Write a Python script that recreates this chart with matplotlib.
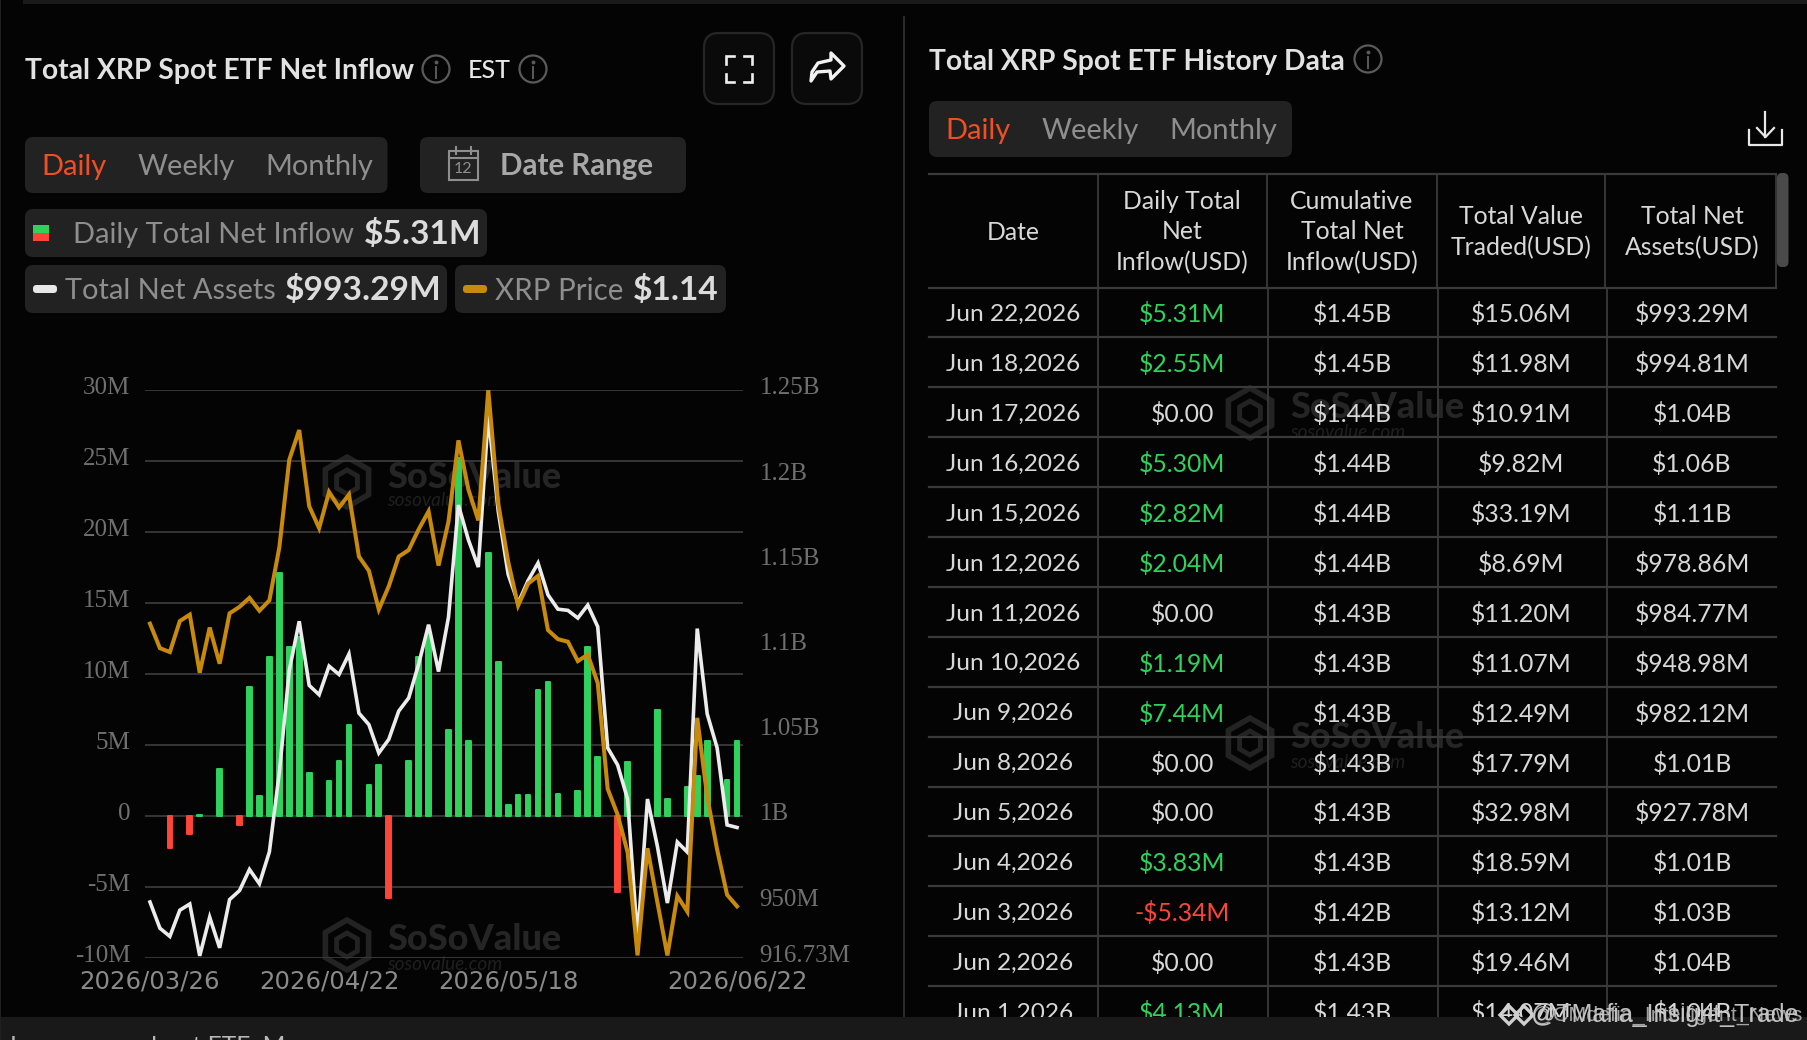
import matplotlib
matplotlib.use("Agg")
import matplotlib.pyplot as plt
from matplotlib.patches import FancyBboxPatch, Circle, Rectangle, RegularPolygon, Polygon
from matplotlib.transforms import ScaledTranslation

W, H = 1807, 1040
BG = "#040404"
GREY = "#8e8e8e"
ORANGE = "#f04f23"
GREEN = "#2fd35c"
RED = "#ff4438"
GOLD = "#c88a0c"
LINE = "#3a3a3a"

# chart data, one entry per trading day
x_labels = ["2026/03/26", "2026/04/22", "2026/05/18", "2026/06/22"]
x_label_idx = [0, 18, 36, 59]
net_inflow = [0, 0, -2.27, 0, -1.26, 0.1, 0, 3.33, 0, -0.6, 9.08, 1.44, 11.18, 17.1, 11.87,
              12.6, 3.0, 0, 2.47, 3.9, 6.44, 0, 2.18, 3.62, -5.75, 0, 3.9, 11.2, 12.8, 0,
              6.06, 25.2, 5.3, 0, 18.5, 10.86, 0.75, 1.47, 1.47, 8.88, 9.45, 1.55, 0, 1.78, 11.9,
              4.13, 0, -5.34, 3.83, 0, 0, 7.44, 1.19, 0, 2.04, 2.82, 5.30, 0, 2.55, 5.31]
net_assets = [949.6, 934.2, 929.4, 944.8, 948.4, 918, 940.7, 922.7, 951, 956.3, 968.7, 960.3,
              979, 1025.7, 1085.5, 1114.3, 1076.7, 1071.2, 1088, 1083.1, 1095.1, 1060.4, 1053.7,
              1037, 1045, 1061.6, 1069.3, 1089.1, 1112.3, 1084.8, 1116.7, 1182.5, 1162.1, 1146.1,
              1235.2, 1178.9, 1141.8, 1125, 1138.2, 1148.5, 1129.8, 1121.4, 1120.7, 1116.2, 1123.8,
              1111.1, 1040, 1030, 1010, 927.78, 1010, 982.12, 948.98, 984.77, 978.86, 1110, 1060,
              1040, 994.81, 993.29]
xrp_price = [1.359, 1.340, 1.337, 1.361, 1.366, 1.321, 1.356, 1.328, 1.367, 1.372, 1.379, 1.369,
             1.377, 1.418, 1.486, 1.509, 1.450, 1.433, 1.461, 1.449, 1.459, 1.411, 1.400, 1.370,
             1.388, 1.411, 1.416, 1.432, 1.446, 1.404, 1.438, 1.501, 1.463, 1.439, 1.540, 1.452,
             1.407, 1.373, 1.390, 1.396, 1.354, 1.347, 1.345, 1.330, 1.335, 1.313, 1.231, 1.211,
             1.182, 1.102, 1.185, 1.143, 1.102, 1.148, 1.136, 1.286, 1.225, 1.184, 1.149, 1.14]

left_ticks = [30, 25, 20, 15, 10, 5, 0, -5, -10]
left_labels = ["30M", "25M", "20M", "15M", "10M", "5M", "0", "-5M", "-10M"]
right_ticks = [1250, 1200, 1150, 1100, 1050, 1000, 950, 916.73]
right_labels = ["1.25B", "1.2B", "1.15B", "1.1B", "1.05B", "1B", "950M", "916.73M"]

# table data
headers = ["Date", "Daily Total\nNet\nInflow(USD)", "Cumulative\nTotal Net\nInflow(USD)",
           "Total Value\nTraded(USD)", "Total Net\nAssets(USD)"]
dates = ["Jun 22,2026", "Jun 18,2026", "Jun 17,2026", "Jun 16,2026", "Jun 15,2026", "Jun 12,2026",
         "Jun 11,2026", "Jun 10,2026", "Jun 9,2026", "Jun 8,2026", "Jun 5,2026", "Jun 4,2026",
         "Jun 3,2026", "Jun 2,2026", "Jun 1,2026"]
daily = ["$5.31M", "$2.55M", "$0.00", "$5.30M", "$2.82M", "$2.04M", "$0.00", "$1.19M", "$7.44M",
         "$0.00", "$0.00", "$3.83M", "-$5.34M", "$0.00", "$4.13M"]
cumulative = ["$1.45B", "$1.45B", "$1.44B", "$1.44B", "$1.44B", "$1.44B", "$1.43B", "$1.43B",
              "$1.43B", "$1.43B", "$1.43B", "$1.43B", "$1.42B", "$1.43B", "$1.43B"]
traded = ["$15.06M", "$11.98M", "$10.91M", "$9.82M", "$33.19M", "$8.69M", "$11.20M", "$11.07M",
          "$12.49M", "$17.79M", "$32.98M", "$18.59M", "$13.12M", "$19.46M", "$14.07M"]
assets = ["$993.29M", "$994.81M", "$1.04B", "$1.06B", "$1.11B", "$978.86M", "$984.77M", "$948.98M",
          "$982.12M", "$1.01B", "$927.78M", "$1.01B", "$1.03B", "$1.04B", "$1.04B"]

fig = plt.figure(figsize=(W / 100, H / 100), dpi=100, facecolor=BG)

# whole-figure layer in pixel coordinates for the page around the chart
ui = fig.add_axes([0, 0, 1, 1], zorder=0)
ui.set_xlim(0, W)
ui.set_ylim(H, 0)
ui.axis("off")


def box(x0, y0, x1, y1, color, r=8, edge="none", lw=0, z=1):
    ui.add_patch(FancyBboxPatch((x0, y0), x1 - x0, y1 - y0, boxstyle=f"round,pad=0,rounding_size={r}",
                                fc=color, ec=edge, lw=lw, zorder=z))


def label(x, y, s, px, color="#d8d8d8", weight="normal", ha="left", va="center", z=3, family="Lato", **kw):
    return ui.text(x, y + 2, s, fontsize=px * 0.72, color=color, fontweight=weight, ha=ha, va=va,
                   zorder=z, family=family, **kw)


def info(x, y):
    ui.add_patch(Circle((x, y), 13.5, fc="none", ec="#5a5a5a", lw=1.6, zorder=3))
    ui.plot([x, x], [y - 2, y + 9], color="#5a5a5a", lw=1.4, zorder=3)
    ui.plot([x], [y - 7], "o", ms=1.8, color="#5a5a5a", zorder=3)


def watermark(x, y):
    ui.add_patch(RegularPolygon((x, y), 6, radius=25, fc="none", ec="#232323", lw=4, zorder=0.5))
    ui.add_patch(RegularPolygon((x, y), 6, radius=12, fc="none", ec="#232323", lw=3.5, zorder=0.5))
    label(x + 40, y - 7, "SoSoValue", 36, color="#252525", weight="black", z=0.5)
    label(x + 40, y + 17, "sosovalue.com", 19, color="#1f1f1f", style="italic", z=0.5)


# page edges
ui.add_patch(Rectangle((23, 0), W, 4, fc="#1a1a1a", zorder=1))
ui.add_patch(Rectangle((0, 0), 1.2, H, fc="#202020", zorder=1))
ui.plot([904.5, 904.5], [17, 1017], color="#333333", lw=1.2, zorder=1)

for wx, wy in [(347, 482), (347, 945), (1250, 413), (1250, 743)]:
    watermark(wx, wy)

# left panel header
label(25, 69.5, "Total XRP Spot ETF Net Inflow", 28.2, color="#e2e2e2", weight="bold")
info(436, 69)
label(467.5, 68, "EST", 25, color="#e8e8e8", weight="medium")
info(533, 69)

box(704, 33, 774, 104, "#0a0a0a", r=15, edge="#262626", lw=1.6)
box(792, 33, 862, 104, "#0a0a0a", r=15, edge="#262626", lw=1.6)
for cx, cy, dx, dy in [(726, 56, 1, 1), (752, 56, -1, 1), (726, 82, 1, -1), (752, 82, -1, -1)]:
    ui.plot([cx + 8 * dx, cx, cx], [cy, cy, cy + 8 * dy], color="#eeeeee", lw=1.9,
            solid_joinstyle="miter", zorder=3)
share = [(831, 53), (844, 66), (831, 79), (830, 71), (817, 72), (811, 81), (812, 72), (818, 63), (831, 60)]
ui.add_patch(Polygon(share, closed=True, fc="#0a0a0a", ec="#f2f2f2", lw=2.4, joinstyle="round", zorder=3))

# period tabs and date range
box(25, 137, 387.5, 193, "#222222")
label(41, 164.5, "Daily", 29, color=ORANGE)
label(138, 164.5, "Weekly", 29, color=GREY)
label(265, 164.5, "Monthly", 29, color=GREY)

box(420, 137, 686, 193, "#222222")
ui.add_patch(Rectangle((449, 151), 29, 29, fc="none", ec=GREY, lw=1.5, zorder=3))
ui.plot([449, 478], [158, 158], color=GREY, lw=1.5, zorder=3)
ui.plot([456, 456], [147, 154], color=GREY, lw=1.5, zorder=3)
ui.plot([471, 471], [147, 154], color=GREY, lw=1.5, zorder=3)
label(463.5, 167, "12", 16, color=GREY, ha="center")
label(500, 164.5, "Date Range", 29.5, color="#a8a8a8", weight="bold")

# legend chips
box(25, 209, 487, 257, "#222222")
ui.add_patch(Rectangle((33, 225), 16, 8, fc=GREEN, zorder=3))
ui.add_patch(Rectangle((33, 233), 16, 8, fc=RED, zorder=3))
label(73, 233, "Daily Total Net Inflow", 29, color=GREY)
label(364, 232, "$5.31M", 33.5, color="#dcdcdc", weight="bold")

box(25, 265, 447, 313, "#222222")
box(33, 285, 57, 293, "#e8e8e8", r=3.5, z=3)
label(65, 289, "Total Net Assets", 29, color=GREY)
label(285, 288, "$993.29M", 33.5, color="#dcdcdc", weight="bold")

box(455, 265, 726, 313, "#222222")
box(463, 285, 487, 293, GOLD, r=3.5, z=3)
label(495, 289, "XRP Price", 29.5, color=GREY)
label(633, 288, "$1.14", 33.5, color="#dcdcdc", weight="bold")

# right panel header
label(929, 60, "Total XRP Spot ETF History Data", 28.2, color="#e2e2e2", weight="bold")
info(1368, 59)
box(929, 101, 1292, 157, "#222222")
label(945, 129.5, "Daily", 29, color=ORANGE)
label(1042, 129.5, "Weekly", 29, color=GREY)
label(1169, 129.5, "Monthly", 29, color=GREY)
ui.plot([1749, 1749, 1782, 1782], [130, 145, 145, 130], color="#e8e8e8", lw=1.6, zorder=3)
ui.plot([1765.5, 1765.5], [112, 137], color="#e8e8e8", lw=1.6, zorder=3)
ui.plot([1757, 1765.5, 1774], [128, 137, 128], color="#e8e8e8", lw=1.6, zorder=3)

# table grid
ui.plot([929, 1776], [173.5, 173.5], color=LINE, lw=1.6, zorder=1)
ui.plot([929, 1776], [287.5, 287.5], color=LINE, lw=1.6, zorder=1)
for vx in [1098, 1267.5, 1437, 1605.5, 1776]:
    ui.plot([vx, vx], [173.5, 287.5], color=LINE, lw=1.3, zorder=1)
for vx in [1098, 1268, 1438, 1607.5]:
    ui.plot([vx, vx], [287.5, 1017], color=LINE, lw=1.3, zorder=1)
box(1777, 173, 1788.5, 267, "#4a4a4a", r=5)

col_x = [1013, 1182, 1352, 1521, 1692]
for i, head in enumerate(headers):
    ui.text(col_x[i], 232, head, fontsize=17.8, color="#d8d8d8", ha="center",
            va="center", linespacing=1.4, family="Lato", zorder=3)

for r in range(len(dates)):
    ry = 287.5 + 49.9 * (r + 0.5)
    if r < 14:
        ui.plot([929, 1776], [ry + 24.95, ry + 24.95], color=LINE, lw=1.6, zorder=1)
    if daily[r].startswith("-"):
        daily_color = RED
    elif daily[r] == "$0.00":
        daily_color = "#d8d8d8"
    else:
        daily_color = GREEN
    label(col_x[0], ry, dates[r], 24.4, ha="center")
    label(col_x[1], ry, daily[r], 24.7, color=daily_color, ha="center")
    label(col_x[2], ry, cumulative[r], 24.7, ha="center")
    label(col_x[3], ry, traded[r], 24.7, ha="center")
    label(col_x[4], ry, assets[r], 24.7, ha="center")

# bottom bar covers the last table row
ui.add_patch(Rectangle((1.2, 1017), W, 23, fc="#191919", zorder=5))
label(10, 1051, "Learn more about ETF  More", 24.5, color="#b8b8b8", va="baseline", z=6)
for mx in [1509, 1524]:
    ui.add_patch(RegularPolygon((mx, 1015), 4, radius=9, fc="none", ec="#cfcfcf", lw=2.4, zorder=7))
label(1531, 1013, "@TMafia_Insight_Trade", 25, color="#c0c0c0", family="Liberation Sans", z=7)
label(1531, 1013, "@CMdefia_Intelligent_News", 21.5, color="#c8c8c8", family="Liberation Sans", z=7, alpha=0.8)

# the chart itself
ax = fig.add_axes([145 / W, 1 - 958 / H, 598 / W, 568 / H], zorder=2)
ax.patch.set_alpha(0)
days = list(range(len(net_inflow)))
bar_colors = [GREEN if v >= 0 else RED for v in net_inflow]
shown = [d for d in days if net_inflow[d] != 0]
ax.bar(shown, [net_inflow[d] for d in shown], width=0.47, color=[bar_colors[d] for d in shown],
       edgecolor=[bar_colors[d] for d in shown], lw=1.4, joinstyle="round", zorder=2)
ax.set_xlim(-0.5, 59.6)
ax.set_ylim(-10, 30)
ax.set_yticks(left_ticks)
ax.set_yticklabels(left_labels, family="Liberation Serif", fontsize=18, color="#6f6f6f")
ax.set_xticks(x_label_idx)
ax.set_xticklabels(x_labels, fontsize=17.6, color="#8a8a8a")
ax.tick_params(axis="both", length=0)
ax.tick_params(axis="y", pad=10.5)
ax.tick_params(axis="x", pad=8.5)
ax.grid(axis="y", color=LINE, lw=1.3, zorder=0)
ax.set_axisbelow(True)
for side in ax.spines.values():
    side.set_visible(False)

ax2 = ax.twinx()
ax2.plot(days, net_assets, color="#ececec", lw=2.6, solid_joinstyle="miter")
ax2.set_ylim(916.73, 1250)
ax2.set_yticks(right_ticks)
ax2.set_yticklabels(right_labels, family="Liberation Serif", fontsize=18, color="#6f6f6f")
ax2.tick_params(axis="y", length=0, pad=12)
for side in ax2.spines.values():
    side.set_visible(False)

# price has its own hidden scale
ax3 = ax.twinx()
ax3.plot(days, xrp_price, color=GOLD, lw=2.9, solid_joinstyle="miter")
ax3.set_ylim(1.10, 1.54)
ax3.axis("off")

# y labels sit a little above their grid lines
up = ScaledTranslation(0, 3 / 72, fig.dpi_scale_trans)
for t in ax.get_yticklabels() + ax2.get_yticklabels():
    t.set_transform(t.get_transform() + up)

fig.savefig("out.png", dpi=100, facecolor=BG)
